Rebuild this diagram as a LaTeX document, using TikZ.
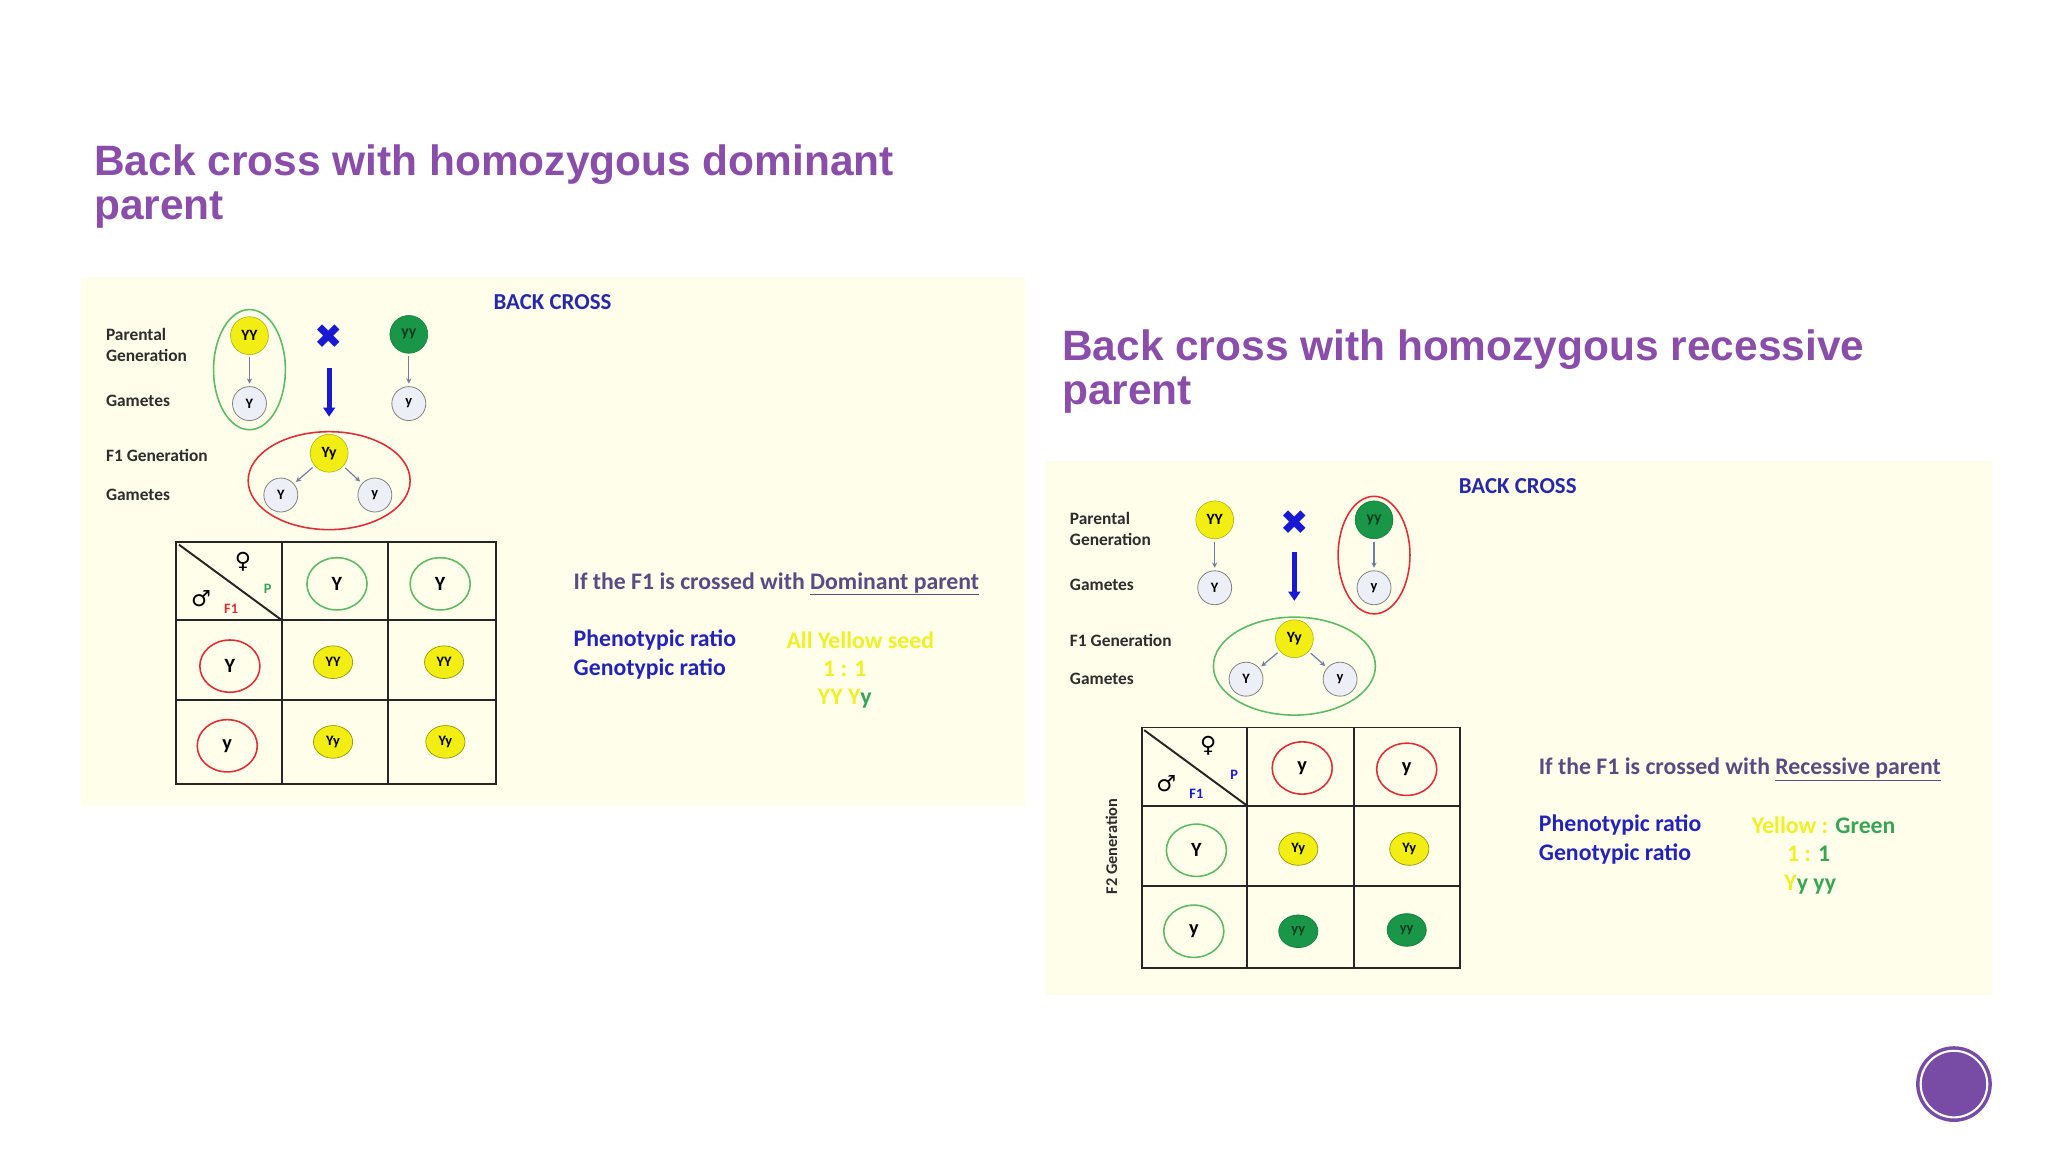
\documentclass[tikz,border=0pt]{standalone}
\usepackage{fontspec}
\setmainfont{Carlito}
\newfontfamily\headfont{Liberation Sans}
\newfontfamily\symfont{DejaVu Sans}
\usetikzlibrary{arrows.meta,shapes.geometric}
\definecolor{headpurple}{RGB}{138,78,170}
\definecolor{panelbg}{RGB}{254,254,234}
\definecolor{yelfill}{RGB}{242,238,20}
\definecolor{dkgreen}{RGB}{26,150,72}
\definecolor{ringgreen}{RGB}{95,185,100}
\definecolor{ringred}{RGB}{222,45,55}
\definecolor{crossblue}{RGB}{25,25,210}
\definecolor{titleblue}{RGB}{40,40,170}
\definecolor{ratioblue}{RGB}{35,35,185}
\definecolor{sentpurple}{RGB}{90,75,130}
\definecolor{gamfill}{RGB}{236,239,246}
\definecolor{smallarr}{RGB}{110,125,160}
\definecolor{txtyellow}{RGB}{240,240,40}
\definecolor{txtgreen}{RGB}{55,165,85}
\definecolor{labgray}{RGB}{45,45,45}
\definecolor{logopurple}{RGB}{120,75,165}
\begin{document}
\begin{tikzpicture}[x=1pt,y=-1pt,
  heading/.style={anchor=base west,inner sep=0,text=headpurple,font=\headfont\bfseries\fontsize{32.5}{38}\selectfont},
  paneltitle/.style={text=titleblue,font=\bfseries\fontsize{17.5}{20}\selectfont,inner sep=0},
  lab/.style={anchor=west,inner sep=0,text=labgray,align=left,font=\bfseries\fontsize{13.3}{16}\selectfont},
  yel/.style={circle,fill=yelfill,draw=yelfill!70!black,line width=0.4,minimum size=29,inner sep=0,font=\bfseries\fontsize{12}{12}\selectfont},
  grn/.style={circle,fill=dkgreen,draw=dkgreen!80!black,line width=0.4,minimum size=29,inner sep=0,text=black!60!dkgreen,font=\bfseries\fontsize{12}{12}\selectfont},
  gam/.style={circle,fill=gamfill,draw=gray,line width=0.6,minimum size=26,inner sep=0,font=\bfseries\fontsize{11}{11}\selectfont},
  ring/.style={ellipse,line width=1.2,inner sep=0},
  hdr/.style={ellipse,line width=1.2,minimum width=46,minimum height=40,inner sep=0,font=\bfseries\fontsize{15.5}{15.5}\selectfont},
  celly/.style={ellipse,fill=yelfill,draw=yelfill!60!black,line width=0.5,minimum width=30,minimum height=25,inner sep=0,font=\bfseries\fontsize{11}{11}\selectfont},
  cellg/.style={ellipse,fill=dkgreen,draw=dkgreen!80!black,line width=0.5,minimum width=30,minimum height=25,inner sep=0,text=black!60!dkgreen,font=\bfseries\fontsize{11}{11}\selectfont},
  arr/.style={-{Stealth[length=4,width=4]},smallarr,line width=0.9,shorten <=2,shorten >=2},
  bigarr/.style={-{Triangle[length=7,width=9]},crossblue,line width=4},
  gridline/.style={line width=1.5,black!85},
  sent/.style={anchor=west,inner sep=0,text=sentpurple,font=\bfseries\fontsize{18.2}{20}\selectfont},
  ratio/.style={anchor=west,inner sep=0,text=ratioblue,font=\bfseries\fontsize{18.2}{20}\selectfont},
  ans/.style={anchor=west,inner sep=0,font=\bfseries\fontsize{18.2}{20}\selectfont},
  sym/.style={inner sep=0,font=\symfont\fontsize{17}{17}\selectfont},
  tiny/.style={inner sep=0,font=\bfseries\fontsize{11}{11}\selectfont}
]
\useasboundingbox (0,0) rectangle (1568,882);
\fill[white] (0,0) rectangle (1568,882);

% headings
\node[heading] (h1a) at (72,134) {Back cross with homozygous dominant};
\node[heading] (h1b) at (72,168) {parent};
\node[heading] (h2a) at (813,276) {Back cross with homozygous recessive};
\node[heading] (h2b) at (813,310) {parent};

% ================= LEFT PANEL =================
\fill[panelbg] (62,212) rectangle (785,617);
\node[paneltitle] (Lbc) at (423,231) {BACK CROSS};
\node[lab] (Lpg) at (81,264) {Parental\\Generation};
\node[lab] (Lg1) at (81,307) {Gametes};
\node[lab] (Lf1) at (81,349) {F1 Generation};
\node[lab] (Lg2) at (81,379) {Gametes};

\node[yel] (LP1) at (191,257) {YY};
\node[gam] (LG1) at (191,309) {Y};
\draw[arr] (LP1) -- (LG1);
\node[grn] (LP2) at (313,256) {yy};
\node[gam] (LG2) at (313,309) {y};
\draw[arr] (LP2) -- (LG2);
\node[ring,draw=ringgreen,minimum width=55,minimum height=92] (LE1) at (191,283) {};
\node[sym,text=crossblue,font=\symfont\fontsize{26}{26}\selectfont] (LX) at (252,258) {✖};
\coordinate (LA1) at (252,282);
\coordinate (LA2) at (252,319);
\draw[bigarr] (LA1) -- (LA2);

\node[yel] (LF) at (252,347) {Yy};
\node[gam] (LF1) at (215,379) {Y};
\node[gam] (LF2) at (287,379) {y};
\draw[arr] (LF) -- (LF1);
\draw[arr] (LF) -- (LF2);
\node[ring,draw=ringred,minimum width=124,minimum height=75] (LE2) at (252,368) {};

% Punnett square
\draw[gridline] (135,415) rectangle (380,600);
\draw[gridline] (216,415) -- (216,600) (297,415) -- (297,600);
\draw[gridline] (135,475) -- (380,475) (135,536) -- (380,536);
\draw[gridline] (137,417) -- (216,475);
\node[sym] (Lfem) at (186,430) {♀};
\node[sym] (Lmal) at (154,458) {♂};
\node[tiny,text=txtgreen] (LPp) at (205,451) {P};
\node[tiny,text=ringred] (LF1l) at (177,466) {F1};
\node[hdr,draw=ringgreen] (LC1) at (258,447) {Y};
\node[hdr,draw=ringgreen] (LC2) at (337,447) {Y};
\node[hdr,draw=ringred] (LR1) at (176,510) {Y};
\node[hdr,draw=ringred] (LR2) at (174,571) {y};
\node[celly] (L11) at (255,507) {YY};
\node[celly] (L12) at (340,507) {YY};
\node[celly] (L21) at (255,568) {Yy};
\node[celly] (L22) at (341,568) {Yy};

\node[sent] (Ls) at (439,447) {If the F1 is crossed with \underline{Dominant parent}};
\node[ratio] (Lph) at (439,490) {Phenotypic ratio};
\node[ratio] (Lge) at (439,512) {Genotypic ratio};
\node[ans,text=txtyellow] (Lpa) at (602,490) {All Yellow seed};
\node[ans,text=txtyellow] (Lga) at (630,512) {1 : 1};
\node[ans] (Lgb) at (626,535) {\textcolor{txtyellow}{YY Y}\textcolor{txtgreen}{y}};

% ================= RIGHT PANEL =================
\begin{scope}[shift={(738,141)}]
\fill[panelbg] (62,212) rectangle (787,621);
\node[paneltitle] (Rbc) at (424,231) {BACK CROSS};
\node[lab] (Rpg) at (81,264) {Parental\\Generation};
\node[lab] (Rg1) at (81,307) {Gametes};
\node[lab] (Rf1) at (81,349) {F1 Generation};
\node[lab] (Rg2) at (81,379) {Gametes};

\node[yel] (RP1) at (192,257) {YY};
\node[gam] (RG1) at (192,309) {Y};
\draw[arr] (RP1) -- (RG1);
\node[grn] (RP2) at (314,257) {yy};
\node[gam] (RG2) at (314,309) {y};
\draw[arr] (RP2) -- (RG2);
\node[ring,draw=ringred,minimum width=55,minimum height=90] (RE1) at (314,284) {};
\node[sym,text=crossblue,font=\symfont\fontsize{26}{26}\selectfont] (RX) at (253,259) {✖};
\coordinate (RA1) at (253,282);
\coordinate (RA2) at (253,319);
\draw[bigarr] (RA1) -- (RA2);

\node[yel] (RF) at (253,348) {Yy};
\node[gam] (RF1) at (216,379) {Y};
\node[gam] (RF2) at (288,379) {y};
\draw[arr] (RF) -- (RF1);
\draw[arr] (RF) -- (RF2);
\node[ring,draw=ringgreen,minimum width=124,minimum height=75] (RE2) at (253,369) {};

\draw[gridline] (136,416) rectangle (380,600);
\draw[gridline] (217,416) -- (217,600) (299,416) -- (299,600);
\draw[gridline] (136,476) -- (380,476) (136,537) -- (380,537);
\draw[gridline] (138,418) -- (217,476);
\node[sym] (Rfem) at (187,430) {♀};
\node[sym] (Rmal) at (155,459) {♂};
\node[tiny,text=crossblue] (RPp) at (207,452) {P};
\node[tiny,text=crossblue] (RF1l) at (178,467) {F1};
\node[hdr,draw=ringred] (RC1) at (259,447) {y};
\node[hdr,draw=ringred] (RC2) at (339,448) {y};
\node[hdr,draw=ringgreen] (RR1) at (178,510) {Y};
\node[hdr,draw=ringgreen] (RR2) at (176,572) {y};
\node[celly] (R11) at (256,509) {Yy};
\node[celly] (R12) at (341,509) {Yy};
\node[cellg] (R21) at (256,572) {yy};
\node[cellg] (R22) at (339,571) {yy};
\node[inner sep=0,rotate=90,text=labgray,font=\bfseries\fontsize{12.5}{12.5}\selectfont] (RF2g) at (113,507) {F2 Generation};

\node[sent] (Rs) at (440,448) {If the F1 is crossed with \underline{Recessive parent}};
\node[ratio] (Rph) at (440,491) {Phenotypic ratio};
\node[ratio] (Rge) at (440,513) {Genotypic ratio};
\node[ans] (Rpa) at (603,491) {\textcolor{txtyellow}{Yellow :} \textcolor{txtgreen}{Green}};
\node[ans] (Rga) at (630,513) {\textcolor{txtyellow}{1 :} \textcolor{txtgreen}{1}};
\node[ans] (Rgb) at (628,536) {\textcolor{txtyellow}{Y}\textcolor{txtgreen}{y yy}};
\end{scope}

% logo
\node[circle,fill=logopurple,minimum size=58,inner sep=0] (logo) at (1496,830) {};
\draw[white,line width=1.6] (logo.center) circle (25.5);
\end{tikzpicture}
\end{document}
